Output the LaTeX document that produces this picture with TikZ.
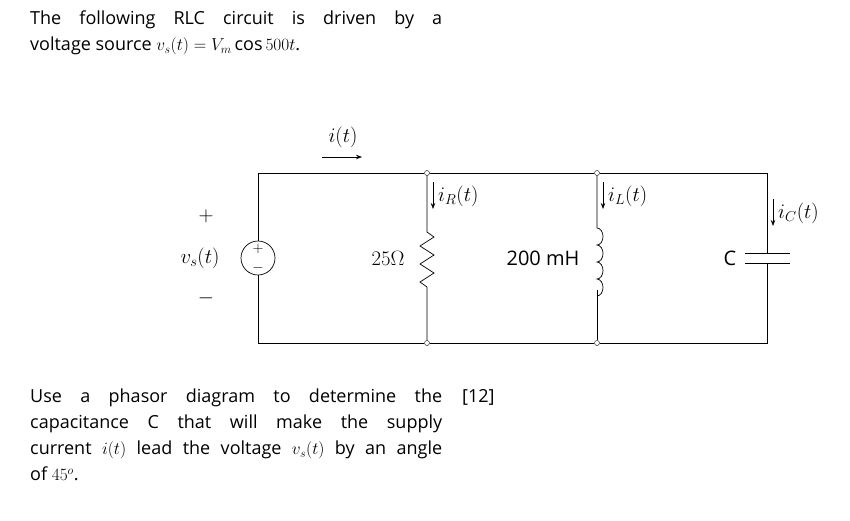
\documentclass[tikz,border=0pt]{standalone}
\usepackage{fontspec}
\setmainfont{Open Sans}
\usepackage{amsmath}
\usetikzlibrary{arrows.meta}

\tikzset{
  wire/.style={line width=0.7pt},
  txt/.style={anchor=north west,inner sep=0pt,text width=412pt,align=justify,
    font=\fontsize{18}{26}\selectfont},
  lbl/.style={inner sep=1pt,font=\fontsize{20}{22}\selectfont},
  sgn/.style={inner sep=0pt,font=\fontsize{15}{15}\selectfont},
  flow/.style={-{Stealth[length=6pt]},line width=0.7pt},
  term/.style={circle,draw,fill=white,inner sep=0pt,minimum size=5pt}
}

\begin{document}
\begin{tikzpicture}[x=1pt,y=-1pt]
  \useasboundingbox (0,0) rectangle (850,520);
  % text above
  \node[txt] (top) at (30,11) {The following RLC circuit is driven by a\linebreak
    voltage source $v_s(t)=V_m\cos 500t$.};
  % corners
  \coordinate (tl) at (258,173);
  \coordinate (bl) at (258,343);
  \coordinate (tc) at (767,173);
  \coordinate (bc) at (767,343);
  \node[term] (tR) at (427,173) {};
  \node[term] (bR) at (427,343) {};
  \node[term] (tL) at (597,173) {};
  \node[term] (bL) at (597,343) {};
  % wires
  \draw[wire] (bl) -- (tl) -- (tR) -- (tL) -- (tc) -- (767,253);
  \draw[wire] (bl) -- (bR) -- (bL) -- (bc) -- (767,263);
  % source
  \node[circle,draw,line width=0.7pt,fill=white,minimum size=34pt,inner sep=0pt] (src) at (258,258) {};
  \node[sgn] (sp) at (258,249) {$+$};
  \node[sgn] (sm) at (258,268) {$-$};
  \node[lbl] (vp) at (206,216) {$+$};
  \node[lbl] (vs) at (200,258) {$v_s(t)$};
  \node[lbl] (vm) at (206,298) {$-$};
  % resistor
  \draw[wire] (tR) -- (427,232) -- (434,237) -- (420,246) -- (434,255) -- (420,264)
    -- (434,273) -- (420,282) -- (427,287) -- (bR);
  \node[lbl] (rv) at (388,258) {$25\Omega$};
  % inductor
  \draw[wire] (tL) -- (597,228)
    arc(-90:90:6 and 8.5) arc(-90:90:6 and 8.5) arc(-90:90:6 and 8.5) arc(-90:90:6 and 8.5);
  \draw[wire] (597,290) -- (bL);
  \node[lbl] (lv) at (543,258) {200 mH};
  % capacitor
  \draw[line width=0.9pt] (745,253) -- (790,253);
  \draw[line width=0.9pt] (745,263) -- (790,263);
  \node[lbl] (cv) at (730,258) {C};
  % currents
  \coordinate (ia) at (322,157);
  \coordinate (ib) at (362,157);
  \draw[flow] (ia) -- (ib);
  \node[lbl] (il) at (343,137) {$i(t)$};
  \coordinate (ra) at (433,182);
  \coordinate (rb) at (433,209);
  \draw[flow] (ra) -- (rb);
  \node[lbl,anchor=west] (rl) at (437,196) {$i_R(t)$};
  \coordinate (la) at (603,182);
  \coordinate (lb) at (603,209);
  \draw[flow] (la) -- (lb);
  \node[lbl,anchor=west] (ll) at (607,196) {$i_L(t)$};
  \coordinate (ca) at (773,199);
  \coordinate (cb) at (773,226);
  \draw[flow] (ca) -- (cb);
  \node[lbl,anchor=west] (cl) at (777,213) {$i_C(t)$};
  % text below
  \node[txt] (bot) at (30,389) {Use a phasor diagram to determine the\linebreak
    capacitance C that will make the supply\linebreak
    current $i(t)$ lead the voltage $v_s(t)$ by an angle\linebreak
    of $45^o$.};
  \node[txt,text width=] (mk) at (462,389) {[12]};
\end{tikzpicture}
\end{document}
